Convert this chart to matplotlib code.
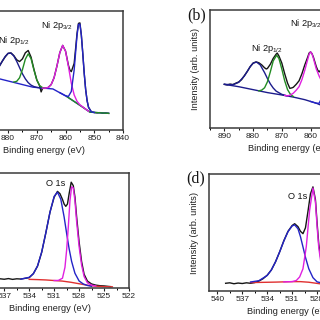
import matplotlib
matplotlib.use("Agg")
import matplotlib.pyplot as plt
from matplotlib.ticker import MultipleLocator

plt.rcParams['font.family'] = ['Liberation Sans', 'DejaVu Sans']
plt.rcParams['mathtext.fontset'] = 'custom'
plt.rcParams['mathtext.rm'] = 'Liberation Sans'

BLACK = '#151515'
NAVY = '#1c1c8c'
BLUE = '#2424c8'
GREEN = '#238c23'
MAGENTA = '#e020e0'
RED = '#e03030'

# ---- (a) Ni 2p ----
a_raw_e = [890, 889, 888, 887, 886, 885, 884, 883, 882, 881, 880, 879, 878, 877, 876, 875, 874,
           873, 872, 871, 870, 869, 868.5, 868, 867, 866, 865, 864, 863, 862, 861, 860, 859,
           858.5, 858, 857, 856.5, 856, 855.5, 855, 854.5, 854, 853.5, 853, 852.5, 852, 851,
           850, 849, 848, 847, 846, 845]
a_raw = [.47, .465, .468, .46, .47, .478, .503, .538, .579, .615, .644, .648, .625, .59, .575,
         .598, .649, .668, .612, .51, .421, .37, .32, .35, .35, .358, .382, .439, .537, .65,
         .711, .663, .544, .505, .49, .56, .683, .812, .896, .90, .797, .643, .476, .34, .247,
         .191, .152, .147, .144, .146, .141, .143, .14]
a_bg_e = [890, 883, 871.4, 864.4, 859.5, 853.9, 851.5, 845]
a_bg = [.47, .43, .36, .345, .28, .19, .15, .14]
a_sat1_e = [890, 888, 886, 884, 883, 882, 881, 880, 879, 878, 877, 876, 875, 874, 873, 872, 871, 870, 868]
a_sat1 = [.47, .462, .465, .503, .538, .579, .618, .644, .646, .622, .577, .524, .472, .43, .398,
          .377, .365, .358, .352]
a_p12_e = [878, 877, 876, 875, 874, 873, 872, 871, 870, 869, 868, 867]
a_p12 = [.403, .409, .439, .508, .595, .64, .599, .504, .419, .373, .356, .351]
a_sat2_e = [868, 867, 866, 865, 864, 863, 862, 861, 860, 859, 858, 857, 856, 855, 854, 853, 852]
a_sat2 = [.352, .352, .358, .382, .439, .537, .65, .711, .662, .534, .394, .295, .241, .212,
          .194, .175, .158]
a_p32_e = [862, 860, 859, 858, 857, 856.5, 856, 855.5, 855, 854.5, 854, 853.5, 853, 852.5, 852, 851, 850]
a_p32 = [.314, .288, .282, .324, .505, .651, .795, .888, .89, .797, .643, .476, .34, .247, .191,
         .152, .147]

# ---- (b) Ni 2p ----
b_raw_e = [890, 889, 888, 887, 886, 885, 884, 883, 882, 881, 880, 879, 878, 877, 876, 875.4,
           875, 874, 873, 872, 871.6, 871, 870, 869, 868, 867.2, 866.5, 866, 865, 864, 863, 862,
           861, 860.5, 860, 859.5, 859, 858.5, 858, 857.5, 857, 856.5, 856, 855.5, 855, 854.5,
           854, 853.5, 853, 852.5, 852, 851, 850, 848, 846]
b_raw = [.37, .365, .372, .368, .38, .39, .41, .445, .48, .52, .55, .56, .553, .535, .51, .50,
         .505, .54, .59, .625, .635, .61, .55, .46, .38, .336, .34, .345, .37, .40, .46, .535,
         .60, .635, .645, .63, .60, .56, .52, .49, .475, .49, .53, .62, .74, .80, .78, .65, .48,
         .33, .24, .18, .16, .15, .145]
b_bg_e = [890, 885, 880, 875, 870, 866, 862, 858, 855, 850, 845]
b_bg = [.37, .35, .325, .30, .28, .262, .24, .21, .18, .15, .14]
b_sat1_e = [890, 887, 885, 883, 881, 880, 878.8, 877.5, 876, 875, 874, 873, 872, 870, 868]
b_sat1 = [.37, .367, .387, .442, .52, .549, .559, .534, .469, .419, .374, .339, .313, .285, .271]
b_p12_e = [878, 877, 876, 875, 874, 873, 871.8, 871, 870, 869, 868, 867, 866]
b_p12 = [.315, .321, .341, .392, .476, .568, .617, .589, .50, .40, .325, .285, .267]
b_sat2_e = [869, 868, 867, 866, 865, 864, 863, 862, 861, 860.5, 860, 859.5, 859, 858, 857, 856,
            855, 854, 853]
b_sat2 = [.276, .272, .28, .295, .32, .35, .41, .49, .58, .625, .645, .63, .59, .50, .44, .39,
          .34, .29, .24]
b_p32_e = [860, 858, 857, 856.5, 856, 855.5, 855, 854.5, 854, 853.5, 853, 852.5, 852, 851, 850]
b_p32 = [.225, .21, .21, .235, .27, .37, .52, .60, .61, .55, .42, .29, .21, .165, .15]

# ---- (c) O 1s ----
c_raw_e = [541, 540.5, 540, 539.5, 539, 538.5, 538, 537.5, 537, 536.5, 536, 535.5, 535, 534.5,
           534, 533.5, 533, 532.5, 532, 531.5, 531, 530.6, 530.3, 530, 529.8, 529.6, 529.4,
           529.2, 528.95, 528.7, 528.5, 528.3, 528, 527.7, 527.4, 527, 526.5, 526, 525.5, 525,
           524.5, 524.2]
c_raw = [.07, .078, .072, .08, .074, .079, .071, .08, .076, .082, .075, .08, .078, .084, .09,
         .125, .19, .31, .48, .66, .79, .84, .82, .77, .73, .71, .73, .82, .92, .89, .79, .62,
         .40, .23, .12, .06, .035, .025, .02, .018, .014, .012]
c_bg_e = [534, 533, 532, 531, 530, 529, 528, 527, 526, 525, 524]
c_bg = [.075, .073, .07, .065, .06, .05, .037, .024, .016, .012, .01]
c_oh_e = [535, 534, 533.5, 533, 532.5, 532, 531.5, 531, 530.6, 530.2, 529.8, 529.5, 529.2, 528.9,
          528.5, 528, 527.5, 527, 526.5]
c_oh = [.077, .093, .124, .192, .313, .48, .66, .797, .833, .772, .617, .475, .341, .231, .128,
        .061, .035, .022, .015]
c_ox_e = [531, 530.5, 530, 529.7, 529.5, 529.3, 529.1, 528.9, 528.7, 528.5, 528.3, 528, 527.7,
          527.4, 527, 526.5, 526]
c_ox = [.065, .066, .085, .18, .33, .53, .76, .88, .87, .76, .58, .36, .20, .10, .045, .025, .018]

# ---- (d) O 1s ----
d_raw_e = [539, 538.5, 538, 537.5, 537, 536.5, 536, 535.5, 535, 534.5, 534, 533.5, 533, 532.5,
           532, 531.5, 531, 530.7, 530.3, 530, 529.7, 529.4, 529.1, 528.8, 528.5, 528.2, 528,
           527.8, 527.5, 527.2, 527, 526.5, 526, 525, 524]
d_raw = [.066, .07, .062, .068, .064, .07, .066, .072, .085, .105, .135, .18, .25, .335, .43,
         .51, .56, .575, .55, .51, .49, .54, .68, .83, .89, .78, .58, .40, .25, .15, .11, .075,
         .062, .05, .045]
d_bg_e = [536, 533, 531, 530, 529, 528, 527, 526, 525, 524]
d_bg = [.072, .076, .08, .08, .075, .065, .055, .046, .04, .035]
d_oh_e = [536, 535, 534, 533.5, 533, 532.5, 532, 531.5, 531, 530.7, 530.3, 530, 529.7, 529.4,
          529, 528.5, 528, 527.5]
d_oh = [.077, .088, .133, .18, .249, .335, .427, .507, .556, .565, .532, .464, .377, .288, .19,
        .114, .078, .07]
d_ox_e = [532, 531, 530.5, 530.1, 529.7, 529.3, 528.9, 528.5, 528.2, 528, 527.8, 527.5, 527.2,
          527, 526.5, 526, 525, 524]
d_ox = [.078, .08, .09, .12, .19, .38, .69, .88, .76, .55, .37, .22, .13, .09, .06, .05, .042, .036]

ni_ticks = [840, 850, 860, 870, 880, 890]
o_ticks = [522, 525, 528, 531, 534, 537, 540]

W = 320.0


def make_axes(fig, left, top, bottom, width=158):
    return fig.add_axes([left / W, 1 - bottom / W, width / W, (bottom - top) / W])


def style(ax, xlim, ticks, minor, ylabel=False):
    ax.set_xlim(*xlim)
    ax.set_ylim(0, 1)
    ax.set_xticks(ticks)
    ax.xaxis.set_minor_locator(MultipleLocator(minor))
    ax.set_yticks([])
    ax.tick_params(axis='x', which='major', direction='out', length=2.5, width=0.8,
                   pad=1.2, labelsize=6, colors='#222222')
    ax.tick_params(axis='x', which='minor', direction='out', length=1.6, width=0.7)
    for s in ax.spines.values():
        s.set_linewidth(1.1)
        s.set_color('#3a3a3a')
    ax.set_xlabel('Binding energy (eV)', fontsize=6.7, labelpad=3.0, color='#222222')
    if ylabel:
        ax.set_ylabel('Intensity (arb. units)', fontsize=6.7, color='#222222')
        ax.yaxis.set_label_coords(-0.066, 0.5)


fig = plt.figure(figsize=(3.2, 3.2), dpi=100)

lw = 1.0
txt = dict(fontsize=6.6, color='#151515')

# (a)
ax = make_axes(fig, -35, 11, 130)
ax.plot(a_raw_e, a_raw, color=BLACK, lw=lw)
ax.plot(a_bg_e, a_bg, color=BLUE, lw=lw)
ax.plot(a_bg_e[4:], a_bg[4:], color=GREEN, lw=lw)
ax.plot(a_sat1_e, a_sat1, color=NAVY, lw=lw)
ax.plot(a_p12_e, a_p12, color=GREEN, lw=lw)
ax.plot(a_sat2_e, a_sat2, color=MAGENTA, lw=lw)
ax.plot(a_p32_e, a_p32, color=BLUE, lw=lw)
style(ax, (895, 840), ni_ticks, 5)
ax.text(883.5, 0.73, r'Ni 2p$_{\mathregular{1/2}}$', ha='left', va='baseline', **txt)
ax.text(868.7, 0.855, r'Ni 2p$_{\mathregular{3/2}}$', ha='left', va='baseline', **txt)

# (b)
ax = make_axes(fig, 210, 10, 128)
ax.plot(b_raw_e, b_raw, color=BLACK, lw=lw)
ax.plot(b_bg_e, b_bg, color=NAVY, lw=lw)
ax.plot(b_sat1_e, b_sat1, color=NAVY, lw=lw)
ax.plot(b_p12_e, b_p12, color=GREEN, lw=lw)
ax.plot(b_sat2_e, b_sat2, color=MAGENTA, lw=lw)
ax.plot(b_p32_e, b_p32, color=BLUE, lw=lw)
style(ax, (895, 840), ni_ticks, 5, ylabel=True)
ax.text(880.7, 0.655, r'Ni 2p$_{\mathregular{1/2}}$', ha='left', va='baseline', **txt)
ax.text(867.2, 0.864, r'Ni 2p$_{\mathregular{3/2}}$', ha='left', va='baseline', **txt)

# (c)
ax = make_axes(fig, -29, 173, 288)
ax.plot(c_raw_e, c_raw, color=BLACK, lw=lw)
ax.plot(c_bg_e, c_bg, color=RED, lw=lw)
ax.plot(c_oh_e, c_oh, color=BLUE, lw=lw)
ax.plot(c_ox_e, c_ox, color=MAGENTA, lw=lw)
style(ax, (541, 522), o_ticks, 1.5)
ax.text(531.95, 0.887, 'O 1s', ha='left', va='baseline', **txt)

# (d)
ax = make_axes(fig, 209, 174, 291)
ax.plot(d_raw_e, d_raw, color=BLACK, lw=lw)
ax.plot(d_bg_e, d_bg, color=RED, lw=lw)
ax.plot(d_oh_e, d_oh, color=BLUE, lw=lw)
ax.plot(d_ox_e, d_ox, color=MAGENTA, lw=lw)
style(ax, (541, 522), o_ticks, 1.5, ylabel=True)
ax.text(531.56, 0.786, 'O 1s', ha='left', va='baseline', **txt)

fig.text(197 / W, 1 - 15 / W, '(b)', ha='center', va='center', fontsize=11.5,
         family='Liberation Serif', color='#151515')
fig.text(196 / W, 1 - 178 / W, '(d)', ha='center', va='center', fontsize=11.5,
         family='Liberation Serif', color='#151515')

fig.savefig('out.png', dpi=100)
